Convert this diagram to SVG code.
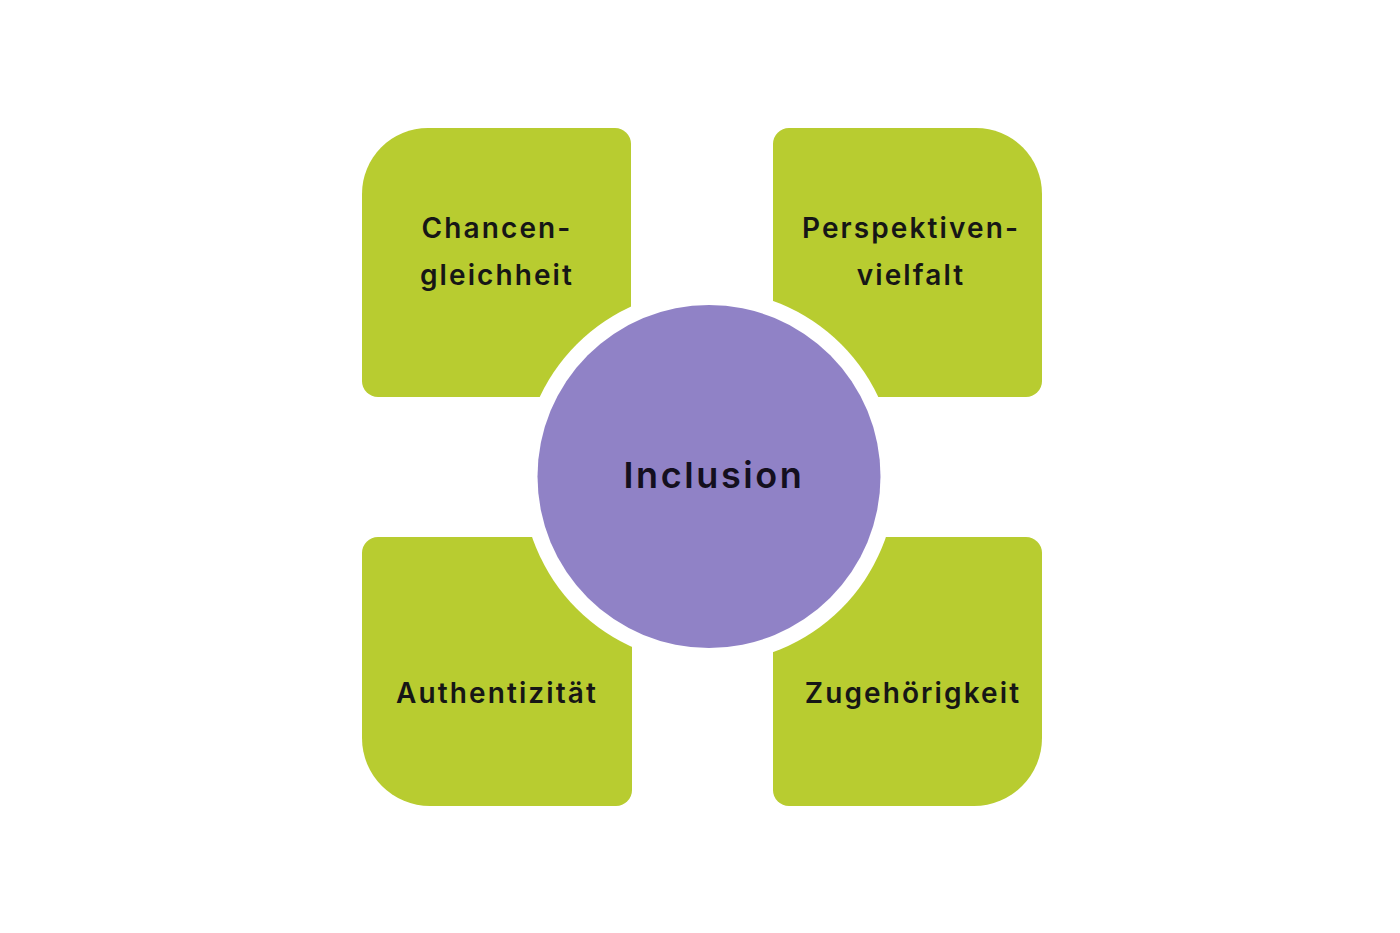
<svg xmlns="http://www.w3.org/2000/svg" width="1400" height="933" viewBox="0 0 1400 933">
  <style>
    .tile { fill: #b8cc30; }
    .lbl { font-family: Inter, "Liberation Sans", Arial, sans-serif; font-weight: 600; font-size: 28px; letter-spacing: 2.1px; fill: #161616; text-anchor: middle; }
    .center-lbl { font-family: Inter, "Liberation Sans", Arial, sans-serif; font-weight: 600; font-size: 36px; letter-spacing: 2.6px; fill: #140f1e; text-anchor: middle; }
  </style>
  <rect x="0" y="0" width="1400" height="933" fill="#ffffff"/>
  <g id="node-chancengleichheit">
    <path class="tile" d="M362,194 A66,66 0 0 1 428,128 L615,128 A16,16 0 0 1 631,144 L631,381 A16,16 0 0 1 615,397 L378,397 A16,16 0 0 1 362,381 Z"/>
    <text class="lbl" x="497" y="238">Chancen-</text>
    <text class="lbl" x="497" y="285">gleichheit</text>
  </g>
  <g id="node-perspektivenvielfalt">
    <path class="tile" d="M789,128 L976,128 A66,66 0 0 1 1042,194 L1042,381 A16,16 0 0 1 1026,397 L789,397 A16,16 0 0 1 773,381 L773,144 A16,16 0 0 1 789,128 Z"/>
    <text class="lbl" x="911" y="238">Perspektiven-</text>
    <text class="lbl" x="911" y="285">vielfalt</text>
  </g>
  <g id="node-authentizitaet">
    <path class="tile" d="M378,537 L616,537 A16,16 0 0 1 632,553 L632,790 A16,16 0 0 1 616,806 L430,806 A68,68 0 0 1 362,738 L362,553 A16,16 0 0 1 378,537 Z"/>
    <text class="lbl" x="497" y="703">Authentizität</text>
  </g>
  <g id="node-zugehoerigkeit">
    <path class="tile" d="M789,537 L1026,537 A16,16 0 0 1 1042,553 L1042,738 A68,68 0 0 1 974,806 L789,806 A16,16 0 0 1 773,790 L773,553 A16,16 0 0 1 789,537 Z"/>
    <text class="lbl" x="913" y="703">Zugehörigkeit</text>
  </g>
  <g id="connectors"></g>
  <g id="node-inclusion">
    <circle cx="709" cy="476.5" r="187" fill="#ffffff"/>
    <circle cx="709" cy="476.5" r="171.5" fill="#9082c6"/>
    <text class="center-lbl" x="714" y="488">Inclusion</text>
  </g>
</svg>
